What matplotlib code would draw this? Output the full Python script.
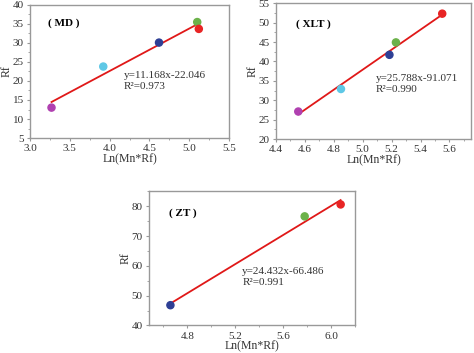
import matplotlib.pyplot as plt
from matplotlib.ticker import MultipleLocator

plt.rcParams['font.family'] = ['Liberation Serif', 'DejaVu Serif']

colors = ["#b040b0", "#5ec8e6", "#2e3f95", "#6cb24a", "#e82424"]

# MD
md_x = [3.27, 3.92, 4.62, 5.10, 5.12]
md_y = [13.0, 23.8, 30.1, 35.5, 33.7]
md_fit = (11.168, -22.046)

# XLT
xlt_x = [4.555, 4.85, 5.185, 5.23, 5.55]
xlt_y = [27.1, 32.9, 41.7, 44.9, 52.3]
xlt_fit = (25.788, -91.071)

# ZT
zt_x = [4.66, 5.78, 6.08]
zt_y = [46.8, 76.6, 80.6]
zt_fit = (24.432, -66.486)
zt_colors = [colors[2], colors[3], colors[4]]


def panel(ax, x, y, cols, fit, name, eq, r2, xlim, ylim, xmaj, xmin, ymaj, ymin,
          name_xy, eq_xy):
    x0, x1 = min(x), max(x)
    ax.plot([x0, x1], [fit[0]*x0 + fit[1], fit[0]*x1 + fit[1]],
            color="#e01818", lw=1.3, zorder=2)
    ax.scatter(x, y, c=cols, s=26, zorder=3)
    ax.set_xlim(*xlim)
    ax.set_ylim(*ylim)
    ax.xaxis.set_major_locator(MultipleLocator(xmaj))
    ax.xaxis.set_minor_locator(MultipleLocator(xmin))
    ax.yaxis.set_major_locator(MultipleLocator(ymaj))
    ax.yaxis.set_minor_locator(MultipleLocator(ymin))
    for s in ax.spines.values():
        s.set_color("#999999")
        s.set_linewidth(1.0)
    ax.tick_params(which="both", direction="out", color="#999999",
                   labelsize=8, labelcolor="#333333", pad=2)
    ax.tick_params(which="major", length=2.5)
    ax.tick_params(which="minor", length=1.5)
    ax.set_xlabel("Ln(Mn*Rf)", fontsize=8.5, labelpad=0, color="#333333")
    ax.set_ylabel("Rf", fontsize=8.5, labelpad=0, color="#333333")
    ax.text(name_xy[0], name_xy[1], name, fontsize=8, fontweight="bold",
            va="center")
    ax.text(eq_xy[0], eq_xy[1], eq + "\n" + r2, fontsize=8, va="center",
            linespacing=1.3, color="#333333")


fig = plt.figure(figsize=(4.74, 3.53), dpi=100)

ax1 = fig.add_axes([0.0633, 0.609, 0.420, 0.377])
panel(ax1, md_x, md_y, colors, md_fit, "( MD )", "y=11.168x-22.046",
      "R²=0.973", (3.0, 5.5), (5, 40), 0.5, 0.25, 5, 2.5,
      (3.22, 35.3), (4.18, 19.9))

ax2 = fig.add_axes([0.582, 0.606, 0.412, 0.385])
panel(ax2, xlt_x, xlt_y, colors, xlt_fit, "( XLT )", "y=25.788x-91.071",
      "R²=0.990", (4.4, 5.75), (20, 55), 0.2, 0.1, 5, 2.5,
      (4.54, 49.6), (5.09, 34.2))

ax3 = fig.add_axes([0.314, 0.078, 0.435, 0.38])
panel(ax3, zt_x, zt_y, zt_colors, zt_fit, "( ZT )", "y=24.432x-66.486",
      "R²=0.991", (4.48, 6.2), (40, 85), 0.4, 0.2, 10, 5,
      (4.65, 77.7), (5.26, 56.4))

fig.savefig("out.png", dpi=100)
